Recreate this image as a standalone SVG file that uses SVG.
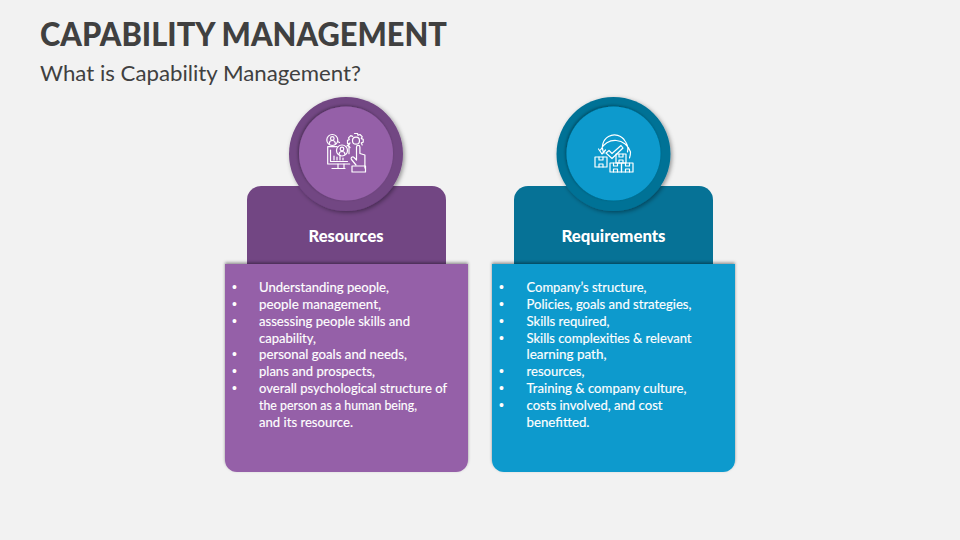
<svg xmlns="http://www.w3.org/2000/svg" width="960" height="540" viewBox="0 0 960 540">
<style>
.t{font-family:Lato,"Open Sans","Liberation Sans",sans-serif}
.title{font-size:33px;font-weight:900;fill:#404040}
.sub{font-size:21px;fill:#404040}
.head{font-size:16px;font-weight:900;fill:#fff}
.li{font-size:13px;fill:#fff;stroke:#fff;stroke-width:.15}
.bu{font-size:14px;font-family:"Liberation Sans",sans-serif;fill:#fff}
.ic{fill:none;stroke:#fff;stroke-width:1.2;stroke-linejoin:round;stroke-linecap:round}
.p1{fill:#9560A8}.p2{fill:#724683}.b1{fill:#0A9ACD}.b2{fill:#067296}
</style>
<defs>
<filter id="sh" x="-20%" y="-20%" width="140%" height="140%"><feDropShadow dx="1.5" dy="1.5" stdDeviation="2" flood-color="#000" flood-opacity=".4"/></filter>
<filter id="shUp" x="-10%" y="-10%" width="120%" height="120%"><feDropShadow dx="0" dy="-1.5" stdDeviation="1.5" flood-color="#000" flood-opacity=".4"/></filter>
<filter id="shIn" x="-20%" y="-20%" width="140%" height="140%"><feDropShadow dx="-1" dy="-1" stdDeviation="1.5" flood-color="#000" flood-opacity=".35"/></filter>
</defs>
<rect width="960" height="540" fill="#F2F2F2"/>
<text class="t title" x="40" y="46" textLength="407" lengthAdjust="spacingAndGlyphs">CAPABILITY MANAGEMENT</text>
<text class="t sub" x="40" y="81" textLength="321" lengthAdjust="spacingAndGlyphs">What is Capability Management?</text>

<g id="resources">
<path class="p2" d="M247 264V200a14 14 0 0 1 14-14H432a14 14 0 0 1 14 14V264Z"/>
<circle class="p2" cx="346" cy="154" r="57" filter="url(#sh)"/>
<circle class="p1" cx="346" cy="153.500" r="47" filter="url(#shIn)"/>
<path class="p1" d="M225 264H468V460a12 12 0 0 1-12 12H237a12 12 0 0 1-12-12Z" filter="url(#shUp)"/>
<text class="t head" x="346" y="241.500" text-anchor="middle" textLength="75" lengthAdjust="spacingAndGlyphs">Resources</text>
<g class="t li">
<text x="259" y="291.500" textLength="130" lengthAdjust="spacingAndGlyphs">Understanding people,</text>
<text x="259" y="308.500" textLength="122" lengthAdjust="spacingAndGlyphs">people management,</text>
<text x="259" y="325.500" textLength="151" lengthAdjust="spacingAndGlyphs">assessing people skills and</text>
<text x="259" y="342.500" textLength="57" lengthAdjust="spacingAndGlyphs">capability,</text>
<text x="259" y="358.700" textLength="148" lengthAdjust="spacingAndGlyphs">personal goals and needs,</text>
<text x="259" y="375.700" textLength="116" lengthAdjust="spacingAndGlyphs">plans and prospects,</text>
<text x="259" y="392.700" textLength="188" lengthAdjust="spacingAndGlyphs">overall psychological structure of</text>
<text x="259" y="409.700" textLength="158" lengthAdjust="spacingAndGlyphs">the person as a human being,</text>
<text x="259" y="426.700" textLength="94" lengthAdjust="spacingAndGlyphs">and its resource.</text>
</g>
<g class="bu">
<text x="232" y="291.500">•</text><text x="232" y="308.500">•</text><text x="232" y="325.500">•</text><text x="232" y="358.700">•</text><text x="232" y="375.700">•</text><text x="232" y="392.700">•</text>
</g>
<g class="ic">
<circle cx="332.300" cy="140" r="5.500"/><circle cx="332.300" cy="138.500" r="1.800"/><path d="M329.300 143.500a3 3 0 0 1 6 0"/>
<circle cx="342" cy="150.500" r="5.500"/><circle cx="342" cy="149" r="1.800"/><path d="M339 154.500a3 3 0 0 1 6 0"/>
<circle cx="356" cy="140.700" r="3.500"/>
<path d="M354.500 133.500h3l.5 1.800 2-.8 2.200 2.200-.9 1.900 1.900.7v3l-1.900.6.9 2M350 147.500l-1.500-1.500.8-2-1.800-.6v-3l1.800-.6-.8-2 2.200-2.200 2 .8"/>
<path d="M337.500 141.500l2 1M347 146l3-3"/>
<path d="M337 146.700h-9.300v17.300h22M349 146.700v7"/>
<path d="M330.500 150v11.500h17M334 160v-4M337 160v-3M340 160v-5M343 160v-2M338 164v4M344 164v4M332 168.500h13"/>
<path d="M356 165l-4.500-5.500a1.500 1.500 0 0 1 2.500-2l2.500 2.500v-13a1.700 1.700 0 0 1 3.400 0v6.500l5 1.500v13"/>
<rect x="352" y="166" width="13.500" height="6"/>
</g>
</g>

<g id="requirements">
<path class="b2" d="M514 264V200a14 14 0 0 1 14-14H699a14 14 0 0 1 14 14V264Z"/>
<circle class="b2" cx="613.500" cy="154" r="57" filter="url(#sh)"/>
<circle class="b1" cx="613.500" cy="153.500" r="47" filter="url(#shIn)"/>
<path class="b1" d="M492 264H735V460a12 12 0 0 1-12 12H504a12 12 0 0 1-12-12Z" filter="url(#shUp)"/>
<text class="t head" x="613.500" y="241.500" text-anchor="middle" textLength="104" lengthAdjust="spacingAndGlyphs">Requirements</text>
<g class="t li">
<text x="526.500" y="291.500" textLength="120" lengthAdjust="spacingAndGlyphs">Company’s structure,</text>
<text x="526.500" y="308.500" textLength="165" lengthAdjust="spacingAndGlyphs">Policies, goals and strategies,</text>
<text x="526.500" y="325.500" textLength="83" lengthAdjust="spacingAndGlyphs">Skills required,</text>
<text x="526.500" y="342.500" textLength="165" lengthAdjust="spacingAndGlyphs">Skills complexities &amp; relevant</text>
<text x="526.500" y="358.700" textLength="80" lengthAdjust="spacingAndGlyphs">learning path,</text>
<text x="526.500" y="375.700" textLength="58" lengthAdjust="spacingAndGlyphs">resources,</text>
<text x="526.500" y="392.700" textLength="160" lengthAdjust="spacingAndGlyphs">Training &amp; company culture,</text>
<text x="526.500" y="409.700" textLength="136" lengthAdjust="spacingAndGlyphs">costs involved, and cost</text>
<text x="526.500" y="426.700" textLength="63" lengthAdjust="spacingAndGlyphs">benefitted.</text>
</g>
<g class="bu">
<text x="499" y="291.500">•</text><text x="499" y="308.500">•</text><text x="499" y="325.500">•</text><text x="499" y="342.500">•</text><text x="499" y="375.700">•</text><text x="499" y="392.700">•</text><text x="499" y="409.700">•</text>
</g>
<g class="ic">
<path d="M600.500 150a16 16 0 0 1 30 2q0 3-1 6M604 153a12 12 0 0 1 21-12q4 5 2.500 11"/>
<path d="M598.500 149l3.500 5 3.500-4"/>
<path d="M606 153l3-2.500 3 3 9-8 2 2.500-11 10.500Z"/>
<rect x="595" y="157" width="12" height="10"/><path d="M599 157v3h4v-3M599 167v-3h4v3"/>
<rect x="616" y="154" width="10" height="9"/><path d="M619 154v3h4v-3M619 163v-3h4v3"/>
<rect x="610" y="163" width="11.500" height="9"/><path d="M613.500 163v3h4v-3M613.500 172v-3h4v3"/>
<rect x="621.500" y="163" width="11.500" height="9"/><path d="M625.500 163v3h4v-3M625.500 172v-3h4v3"/>
</g>
</g>
</svg>
